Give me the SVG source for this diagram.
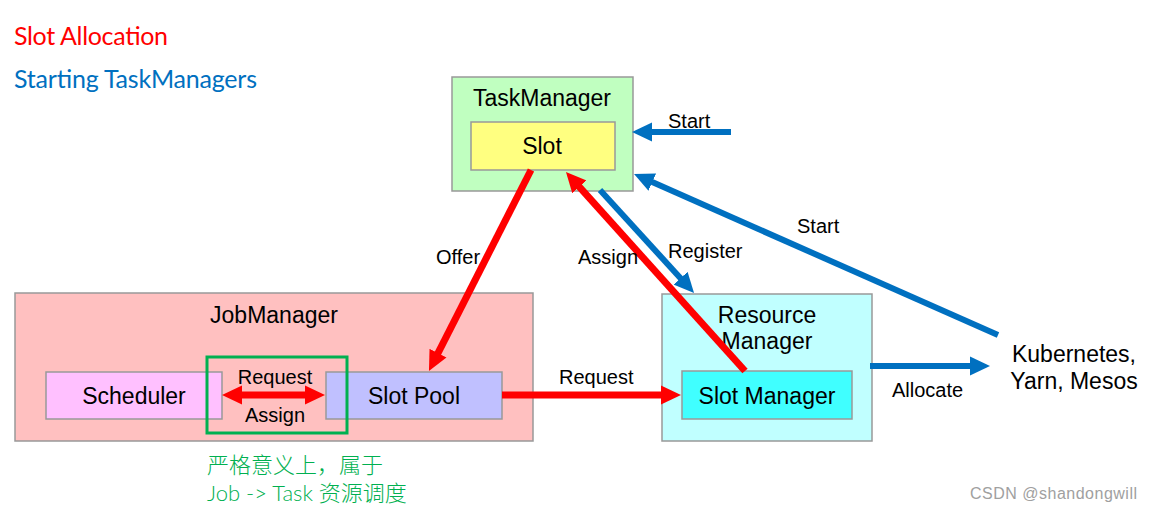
<svg xmlns="http://www.w3.org/2000/svg" width="1151" height="513" viewBox="0 0 1151 513">
<defs>
<marker id="ar" markerUnits="userSpaceOnUse" viewBox="0 0 20 20" markerWidth="20" markerHeight="20" refX="2" refY="10" orient="auto-start-reverse"><path d="M0,0.5 L20,10 L0,19.5 z" fill="#ff0000"/></marker>
<marker id="ab" markerUnits="userSpaceOnUse" viewBox="0 0 20 20" markerWidth="20" markerHeight="20" refX="2" refY="10" orient="auto"><path d="M0,0.5 L20,10 L0,19.5 z" fill="#0070c0"/></marker>
</defs>
<style>
.box{stroke:#999999;stroke-width:1.5}
.lb{font-family:"Liberation Sans",Arial,sans-serif;font-size:23px;fill:#000;text-anchor:middle}
.sm{font-family:"Liberation Sans",Arial,sans-serif;font-size:20px;fill:#000}
.red{stroke:#ff0000;stroke-width:7;fill:none}
.blue{stroke:#0070c0;stroke-width:6;fill:none}
.leg{font-family:Lato,"Open Sans",sans-serif;font-size:25px}
.cn{font-family:Lato,"Noto Sans CJK SC",sans-serif;font-size:22px;fill:#00b050;font-weight:300}
</style>
<rect width="1151" height="513" fill="#ffffff"/>
<text class="leg" x="14" y="45" fill="#ff0000" textLength="154">Slot Allocation</text>
<text class="leg" x="14" y="88" fill="#0070c0" textLength="243">Starting TaskManagers</text>

<g id="taskmanager">
<rect class="box" x="452" y="77" width="181" height="114" fill="#c0ffc0"/>
<text class="lb" x="542" y="106">TaskManager</text>
</g>
<g id="slot">
<rect class="box" x="471" y="122" width="144" height="48" fill="#ffff80"/>
<text class="lb" x="542" y="154">Slot</text>
</g>
<g id="jobmanager">
<rect class="box" x="15" y="293" width="518" height="148" fill="#ffc0c0"/>
<text class="lb" x="274" y="323">JobManager</text>
</g>
<g id="scheduler">
<rect class="box" x="46" y="372" width="176" height="47" fill="#ffc0ff"/>
<text class="lb" x="134" y="404">Scheduler</text>
</g>
<g id="slotpool">
<rect class="box" x="326" y="372" width="176" height="47" fill="#c0c0ff"/>
<text class="lb" x="414" y="404">Slot Pool</text>
</g>
<g id="resourcemanager">
<rect class="box" x="662" y="294" width="210" height="147" fill="#c0ffff"/>
<text class="lb" x="767" y="323">Resource</text>
<text class="lb" x="767" y="349">Manager</text>
</g>
<g id="slotmanager">
<rect class="box" x="682" y="371" width="170" height="48" fill="#40ffff"/>
<text class="lb" x="767" y="404">Slot Manager</text>
</g>
<g id="cluster">
<text class="lb" x="1074" y="362">Kubernetes,</text>
<text class="lb" x="1074" y="389">Yarn, Mesos</text>
</g>
<g id="highlight">
<rect x="207" y="357" width="140" height="76" fill="none" stroke="#00b050" stroke-width="3"/>
</g>

<g id="connectors">
<line class="blue" x1="731" y1="132" x2="650" y2="132" marker-end="url(#ab)"/>
<line class="blue" x1="998" y1="335" x2="650.5" y2="181.3" marker-end="url(#ab)"/>
<line class="blue" x1="600" y1="190" x2="681.9" y2="279.7" marker-end="url(#ab)"/>
<line class="blue" x1="870" y1="366" x2="972" y2="366" marker-end="url(#ab)"/>
<line class="red" x1="745" y1="371" x2="578" y2="185.4" marker-end="url(#ar)"/>
<line class="red" x1="531" y1="170" x2="437.1" y2="354.9" marker-end="url(#ar)"/>
<line class="red" x1="502" y1="395" x2="663" y2="395" marker-end="url(#ar)"/>
<line class="red" x1="240" y1="395" x2="307" y2="395" marker-start="url(#ar)" marker-end="url(#ar)"/>
<text class="sm" x="668" y="128">Start</text>
<text class="sm" x="797" y="233">Start</text>
<text class="sm" x="668" y="258">Register</text>
<text class="sm" x="578" y="264">Assign</text>
<text class="sm" x="436" y="264">Offer</text>
<text class="sm" x="559" y="384">Request</text>
<text class="sm" x="892" y="397">Allocate</text>
<text class="sm" x="275" y="384" text-anchor="middle">Request</text>
<text class="sm" x="275" y="422" text-anchor="middle">Assign</text>
</g>

<text class="cn" x="207" y="473">严格意义上，属于</text>
<text class="cn" x="207" y="501">Job -&gt; Task 资源调度</text>
<text x="970" y="499" font-family="'Liberation Sans',Arial,sans-serif" font-size="16" fill="#a0a0a0" textLength="167">CSDN @shandongwill</text>
</svg>
